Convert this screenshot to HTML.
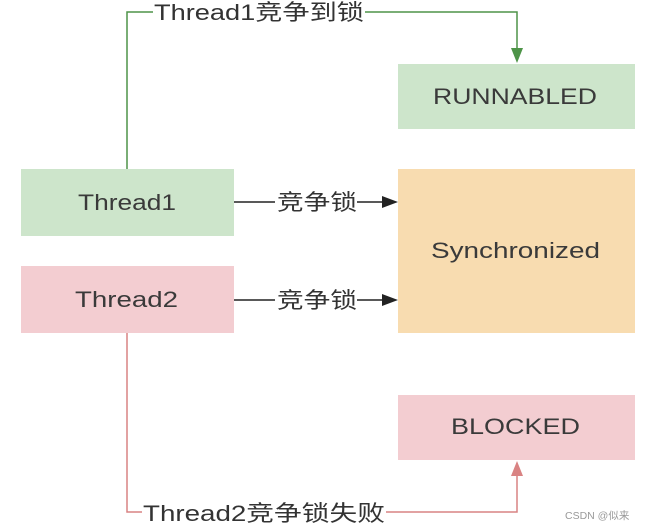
<!DOCTYPE html>
<html><head><meta charset="utf-8"><style>
html,body{margin:0;padding:0;background:#fff;}
body{width:647px;height:530px;overflow:hidden;position:relative;}
</style></head><body>
<svg width="647" height="530" viewBox="0 0 647 530" xmlns="http://www.w3.org/2000/svg" style="position:absolute;left:0;top:0">
<g font-family="Liberation Sans, Noto Sans CJK SC, sans-serif">
<rect x="398" y="64" width="237" height="65" fill="#cde5cb"/>
<rect x="21" y="169" width="213" height="67" fill="#cde5cb"/>
<rect x="398" y="169" width="237" height="164" fill="#f8dcb0"/>
<rect x="21" y="266" width="213" height="67" fill="#f3cdd1"/>
<rect x="398" y="395" width="237" height="65" fill="#f3cdd1"/>
<text x="433" y="104" font-size="22" fill="#3a3a3a" textLength="164" lengthAdjust="spacingAndGlyphs">RUNNABLED</text>
<text x="78" y="210" font-size="22" fill="#3a3a3a" textLength="98" lengthAdjust="spacingAndGlyphs">Thread1</text>
<text x="431" y="258" font-size="22" fill="#3a3a3a" textLength="169" lengthAdjust="spacingAndGlyphs">Synchronized</text>
<text x="75" y="307" font-size="22" fill="#3a3a3a" textLength="103" lengthAdjust="spacingAndGlyphs">Thread2</text>
<text x="451" y="434" font-size="22" fill="#3a3a3a" textLength="129" lengthAdjust="spacingAndGlyphs">BLOCKED</text>
<!-- green -->
<polyline points="127,169 127,12 153,12" fill="none" stroke="#4e9448" stroke-width="1.5"/>
<polyline points="365,12 517,12 517,50" fill="none" stroke="#4e9448" stroke-width="1.5"/>
<polygon points="511,48 523,48 517,63" fill="#4e9448"/>
<text x="154" y="20" font-size="22" fill="#333" textLength="210" lengthAdjust="spacingAndGlyphs">Thread1竞争到锁</text>
<!-- black -->
<line x1="234" y1="202" x2="275" y2="202" stroke="#222" stroke-width="1.5"/>
<line x1="357" y1="202" x2="384" y2="202" stroke="#222" stroke-width="1.5"/>
<polygon points="382,196 382,208 398,202" fill="#222"/>
<text x="277" y="210" font-size="22" fill="#333" textLength="80" lengthAdjust="spacingAndGlyphs">竞争锁</text>
<line x1="234" y1="300" x2="275" y2="300" stroke="#222" stroke-width="1.5"/>
<line x1="357" y1="300" x2="384" y2="300" stroke="#222" stroke-width="1.5"/>
<polygon points="382,294 382,306 398,300" fill="#222"/>
<text x="277" y="308" font-size="22" fill="#333" textLength="80" lengthAdjust="spacingAndGlyphs">竞争锁</text>
<!-- red -->
<polyline points="127,333 127,512 142,512" fill="none" stroke="#d98383" stroke-width="1.5"/>
<polyline points="386,512 517,512 517,474" fill="none" stroke="#d98383" stroke-width="1.5"/>
<polygon points="511,476 523,476 517,461" fill="#d98383"/>
<text x="143" y="521" font-size="22" fill="#333" textLength="242" lengthAdjust="spacingAndGlyphs">Thread2竞争锁失败</text>
<text x="565" y="519" font-size="10.5" fill="#999">CSDN @似来</text>
</g></svg>
</body></html>
